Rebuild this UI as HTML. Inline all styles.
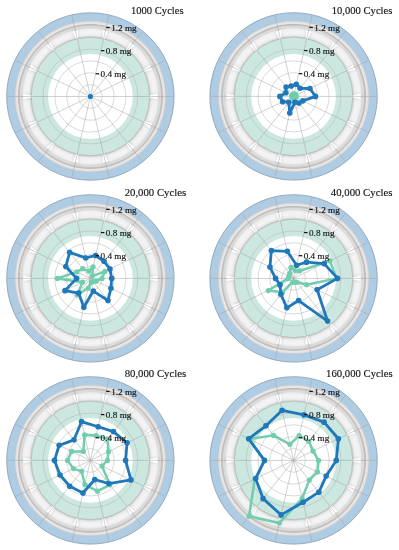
<!DOCTYPE html>
<html><head><meta charset="utf-8"><style>
html,body{margin:0;padding:0;background:#fff;}
svg{display:block;}
text{font-family:"Liberation Serif",serif;fill:#161616;stroke:#161616;stroke-width:0.15px;}
</style></head><body>
<svg width="399" height="550" viewBox="0 0 399 550">
<defs>
<radialGradient id="gb" gradientUnits="userSpaceOnUse" cx="0" cy="0" r="72">
<stop offset="0.824" stop-color="#d2d2d2"/>
<stop offset="0.84" stop-color="#dedede"/>
<stop offset="0.9" stop-color="#e3e3e3"/>
<stop offset="0.96" stop-color="#dddddd"/>
<stop offset="1" stop-color="#d6d6d6"/>
</radialGradient>
<filter id="bl" x="-20%" y="-20%" width="140%" height="140%"><feGaussianBlur stdDeviation="1.1"/></filter>
</defs>

<g transform="translate(90.4,96.5)">
<circle r="83.7" fill="#afcce2" stroke="#8ba4ba" stroke-width="0.9"/>
<circle r="75.2" fill="#e6dcd8"/>
<circle r="74.0" fill="#ebe7e5"/>
<circle r="72" fill="url(#gb)" stroke="#b0b0b0" stroke-width="0.8"/>
<circle r="60.1" fill="none" stroke="#cfcfcf" stroke-width="1"/>
<circle r="68.7" fill="none" stroke="#cdcdcd" stroke-width="0.8"/>
<circle r="59.29" fill="#cbe7e0" stroke="#b5bfbc" stroke-width="0.7"/>
<circle r="42.4" fill="#ffffff"/>
<circle r="11.86" fill="none" stroke="#b2b2b2" stroke-width="0.5"/>
<circle r="23.71" fill="none" stroke="#b2b2b2" stroke-width="0.5"/>
<circle r="35.57" fill="none" stroke="#b2b2b2" stroke-width="0.5"/>
<circle r="47.43" fill="none" stroke="#b2b2b2" stroke-width="0.5"/>
<circle r="59.29" fill="none" stroke="#b2b2b2" stroke-width="0.5"/>
<circle r="71.14" fill="none" stroke="#b2b2b2" stroke-width="0.5"/>
<path d="M60.91,-3.40 L67.71,-3.40 A67.8,67.8 0 0 0 62.48,-26.32 L56.35,-23.36 A61.0,61.0 0 0 1 60.91,-3.40 Z M53.40,-29.49 L59.53,-32.44 A67.8,67.8 0 0 0 44.88,-50.82 L40.63,-45.50 A61.0,61.0 0 0 1 53.40,-29.49 Z M35.32,-49.74 L39.56,-55.06 A67.8,67.8 0 0 0 18.38,-65.26 L16.87,-58.62 A61.0,61.0 0 0 1 35.32,-49.74 Z M10.24,-60.13 L11.75,-66.77 A67.8,67.8 0 0 0 -11.75,-66.77 L-10.24,-60.13 A61.0,61.0 0 0 1 10.24,-60.13 Z M-16.87,-58.62 L-18.38,-65.26 A67.8,67.8 0 0 0 -39.56,-55.06 L-35.32,-49.74 A61.0,61.0 0 0 1 -16.87,-58.62 Z M-40.63,-45.50 L-44.88,-50.82 A67.8,67.8 0 0 0 -59.53,-32.44 L-53.40,-29.49 A61.0,61.0 0 0 1 -40.63,-45.50 Z M-56.35,-23.36 L-62.48,-26.32 A67.8,67.8 0 0 0 -67.71,-3.40 L-60.91,-3.40 A61.0,61.0 0 0 1 -56.35,-23.36 Z M-60.91,3.40 L-67.71,3.40 A67.8,67.8 0 0 0 -62.48,26.32 L-56.35,23.36 A61.0,61.0 0 0 1 -60.91,3.40 Z M-53.40,29.49 L-59.53,32.44 A67.8,67.8 0 0 0 -44.88,50.82 L-40.63,45.50 A61.0,61.0 0 0 1 -53.40,29.49 Z M-35.32,49.74 L-39.56,55.06 A67.8,67.8 0 0 0 -18.38,65.26 L-16.87,58.62 A61.0,61.0 0 0 1 -35.32,49.74 Z M-10.24,60.13 L-11.75,66.77 A67.8,67.8 0 0 0 11.75,66.77 L10.24,60.13 A61.0,61.0 0 0 1 -10.24,60.13 Z M16.87,58.62 L18.38,65.26 A67.8,67.8 0 0 0 39.56,55.06 L35.32,49.74 A61.0,61.0 0 0 1 16.87,58.62 Z M40.63,45.50 L44.88,50.82 A67.8,67.8 0 0 0 59.53,32.44 L53.40,29.49 A61.0,61.0 0 0 1 40.63,45.50 Z M56.35,23.36 L62.48,26.32 A67.8,67.8 0 0 0 67.71,3.40 L60.91,3.40 A61.0,61.0 0 0 1 56.35,23.36 Z" fill="#f3f3f3" filter="url(#bl)"/>
<polygon points="59.19,0.90 67.20,2.80 67.20,-2.80 59.19,-0.90" fill="#ffffff"/>
<polygon points="53.71,-24.87 61.76,-26.63 59.33,-31.68 52.93,-26.49" fill="#ffffff"/>
<polygon points="37.61,-45.71 44.09,-50.79 39.71,-54.28 36.20,-46.83" fill="#ffffff"/>
<polygon points="14.05,-57.50 17.68,-64.89 12.22,-66.14 12.29,-57.90" fill="#ffffff"/>
<polygon points="-12.29,-57.90 -12.22,-66.14 -17.68,-64.89 -14.05,-57.50" fill="#ffffff"/>
<polygon points="-36.20,-46.83 -39.71,-54.28 -44.09,-50.79 -37.61,-45.71" fill="#ffffff"/>
<polygon points="-52.93,-26.49 -59.33,-31.68 -61.76,-26.63 -53.71,-24.87" fill="#ffffff"/>
<polygon points="-59.19,-0.90 -67.20,-2.80 -67.20,2.80 -59.19,0.90" fill="#ffffff"/>
<polygon points="-53.71,24.87 -61.76,26.63 -59.33,31.68 -52.93,26.49" fill="#ffffff"/>
<polygon points="-37.61,45.71 -44.09,50.79 -39.71,54.28 -36.20,46.83" fill="#ffffff"/>
<polygon points="-14.05,57.50 -17.68,64.89 -12.22,66.14 -12.29,57.90" fill="#ffffff"/>
<polygon points="12.29,57.90 12.22,66.14 17.68,64.89 14.05,57.50" fill="#ffffff"/>
<polygon points="36.20,46.83 39.71,54.28 44.09,50.79 37.61,45.71" fill="#ffffff"/>
<polygon points="52.93,26.49 59.33,31.68 61.76,26.63 53.71,24.87" fill="#ffffff"/>
<line x1="0" y1="0" x2="82.70" y2="0.00" stroke="#a2a2a2" stroke-width="0.5"/>
<line x1="0" y1="0" x2="74.51" y2="-35.88" stroke="#a2a2a2" stroke-width="0.5"/>
<line x1="0" y1="0" x2="51.56" y2="-64.66" stroke="#a2a2a2" stroke-width="0.5"/>
<line x1="0" y1="0" x2="18.40" y2="-80.63" stroke="#a2a2a2" stroke-width="0.5"/>
<line x1="0" y1="0" x2="-18.40" y2="-80.63" stroke="#a2a2a2" stroke-width="0.5"/>
<line x1="0" y1="0" x2="-51.56" y2="-64.66" stroke="#a2a2a2" stroke-width="0.5"/>
<line x1="0" y1="0" x2="-74.51" y2="-35.88" stroke="#a2a2a2" stroke-width="0.5"/>
<line x1="0" y1="0" x2="-82.70" y2="-0.00" stroke="#a2a2a2" stroke-width="0.5"/>
<line x1="0" y1="0" x2="-74.51" y2="35.88" stroke="#a2a2a2" stroke-width="0.5"/>
<line x1="0" y1="0" x2="-51.56" y2="64.66" stroke="#a2a2a2" stroke-width="0.5"/>
<line x1="0" y1="0" x2="-18.40" y2="80.63" stroke="#a2a2a2" stroke-width="0.5"/>
<line x1="0" y1="0" x2="18.40" y2="80.63" stroke="#a2a2a2" stroke-width="0.5"/>
<line x1="0" y1="0" x2="51.56" y2="64.66" stroke="#a2a2a2" stroke-width="0.5"/>
<line x1="0" y1="0" x2="74.51" y2="35.88" stroke="#a2a2a2" stroke-width="0.5"/>
</g>
<circle cx="90.4" cy="96.5" r="2.5" fill="#70cdae"/>
<circle cx="90.4" cy="96.5" r="2.5" fill="#1f78b9"/>
<line x1="95.68" y1="73.78" x2="99.08" y2="73.78" stroke="#111" stroke-width="1.2"/>
<text x="100.58" y="77.28" font-size="9.2">0.4 mg</text>
<line x1="100.95" y1="50.66" x2="104.35" y2="50.66" stroke="#111" stroke-width="1.2"/>
<text x="105.85" y="54.16" font-size="9.2">0.8 mg</text>
<line x1="106.23" y1="27.54" x2="109.63" y2="27.54" stroke="#111" stroke-width="1.2"/>
<text x="111.13" y="31.04" font-size="9.2">1.2 mg</text>
<text x="131.00" y="14.3" font-size="11" textLength="52.60" lengthAdjust="spacingAndGlyphs">1000 Cycles</text>
<g transform="translate(293.55,96.4)">
<circle r="83.7" fill="#afcce2" stroke="#8ba4ba" stroke-width="0.9"/>
<circle r="75.2" fill="#e6dcd8"/>
<circle r="74.0" fill="#ebe7e5"/>
<circle r="72" fill="url(#gb)" stroke="#b0b0b0" stroke-width="0.8"/>
<circle r="60.1" fill="none" stroke="#cfcfcf" stroke-width="1"/>
<circle r="68.7" fill="none" stroke="#cdcdcd" stroke-width="0.8"/>
<circle r="59.29" fill="#cbe7e0" stroke="#b5bfbc" stroke-width="0.7"/>
<circle r="42.4" fill="#ffffff"/>
<circle r="11.86" fill="none" stroke="#b2b2b2" stroke-width="0.5"/>
<circle r="23.71" fill="none" stroke="#b2b2b2" stroke-width="0.5"/>
<circle r="35.57" fill="none" stroke="#b2b2b2" stroke-width="0.5"/>
<circle r="47.43" fill="none" stroke="#b2b2b2" stroke-width="0.5"/>
<circle r="59.29" fill="none" stroke="#b2b2b2" stroke-width="0.5"/>
<circle r="71.14" fill="none" stroke="#b2b2b2" stroke-width="0.5"/>
<path d="M60.91,-3.40 L67.71,-3.40 A67.8,67.8 0 0 0 62.48,-26.32 L56.35,-23.36 A61.0,61.0 0 0 1 60.91,-3.40 Z M53.40,-29.49 L59.53,-32.44 A67.8,67.8 0 0 0 44.88,-50.82 L40.63,-45.50 A61.0,61.0 0 0 1 53.40,-29.49 Z M35.32,-49.74 L39.56,-55.06 A67.8,67.8 0 0 0 18.38,-65.26 L16.87,-58.62 A61.0,61.0 0 0 1 35.32,-49.74 Z M10.24,-60.13 L11.75,-66.77 A67.8,67.8 0 0 0 -11.75,-66.77 L-10.24,-60.13 A61.0,61.0 0 0 1 10.24,-60.13 Z M-16.87,-58.62 L-18.38,-65.26 A67.8,67.8 0 0 0 -39.56,-55.06 L-35.32,-49.74 A61.0,61.0 0 0 1 -16.87,-58.62 Z M-40.63,-45.50 L-44.88,-50.82 A67.8,67.8 0 0 0 -59.53,-32.44 L-53.40,-29.49 A61.0,61.0 0 0 1 -40.63,-45.50 Z M-56.35,-23.36 L-62.48,-26.32 A67.8,67.8 0 0 0 -67.71,-3.40 L-60.91,-3.40 A61.0,61.0 0 0 1 -56.35,-23.36 Z M-60.91,3.40 L-67.71,3.40 A67.8,67.8 0 0 0 -62.48,26.32 L-56.35,23.36 A61.0,61.0 0 0 1 -60.91,3.40 Z M-53.40,29.49 L-59.53,32.44 A67.8,67.8 0 0 0 -44.88,50.82 L-40.63,45.50 A61.0,61.0 0 0 1 -53.40,29.49 Z M-35.32,49.74 L-39.56,55.06 A67.8,67.8 0 0 0 -18.38,65.26 L-16.87,58.62 A61.0,61.0 0 0 1 -35.32,49.74 Z M-10.24,60.13 L-11.75,66.77 A67.8,67.8 0 0 0 11.75,66.77 L10.24,60.13 A61.0,61.0 0 0 1 -10.24,60.13 Z M16.87,58.62 L18.38,65.26 A67.8,67.8 0 0 0 39.56,55.06 L35.32,49.74 A61.0,61.0 0 0 1 16.87,58.62 Z M40.63,45.50 L44.88,50.82 A67.8,67.8 0 0 0 59.53,32.44 L53.40,29.49 A61.0,61.0 0 0 1 40.63,45.50 Z M56.35,23.36 L62.48,26.32 A67.8,67.8 0 0 0 67.71,3.40 L60.91,3.40 A61.0,61.0 0 0 1 56.35,23.36 Z" fill="#f3f3f3" filter="url(#bl)"/>
<polygon points="59.19,0.90 67.20,2.80 67.20,-2.80 59.19,-0.90" fill="#ffffff"/>
<polygon points="53.71,-24.87 61.76,-26.63 59.33,-31.68 52.93,-26.49" fill="#ffffff"/>
<polygon points="37.61,-45.71 44.09,-50.79 39.71,-54.28 36.20,-46.83" fill="#ffffff"/>
<polygon points="14.05,-57.50 17.68,-64.89 12.22,-66.14 12.29,-57.90" fill="#ffffff"/>
<polygon points="-12.29,-57.90 -12.22,-66.14 -17.68,-64.89 -14.05,-57.50" fill="#ffffff"/>
<polygon points="-36.20,-46.83 -39.71,-54.28 -44.09,-50.79 -37.61,-45.71" fill="#ffffff"/>
<polygon points="-52.93,-26.49 -59.33,-31.68 -61.76,-26.63 -53.71,-24.87" fill="#ffffff"/>
<polygon points="-59.19,-0.90 -67.20,-2.80 -67.20,2.80 -59.19,0.90" fill="#ffffff"/>
<polygon points="-53.71,24.87 -61.76,26.63 -59.33,31.68 -52.93,26.49" fill="#ffffff"/>
<polygon points="-37.61,45.71 -44.09,50.79 -39.71,54.28 -36.20,46.83" fill="#ffffff"/>
<polygon points="-14.05,57.50 -17.68,64.89 -12.22,66.14 -12.29,57.90" fill="#ffffff"/>
<polygon points="12.29,57.90 12.22,66.14 17.68,64.89 14.05,57.50" fill="#ffffff"/>
<polygon points="36.20,46.83 39.71,54.28 44.09,50.79 37.61,45.71" fill="#ffffff"/>
<polygon points="52.93,26.49 59.33,31.68 61.76,26.63 53.71,24.87" fill="#ffffff"/>
<line x1="0" y1="0" x2="82.70" y2="0.00" stroke="#a2a2a2" stroke-width="0.5"/>
<line x1="0" y1="0" x2="74.51" y2="-35.88" stroke="#a2a2a2" stroke-width="0.5"/>
<line x1="0" y1="0" x2="51.56" y2="-64.66" stroke="#a2a2a2" stroke-width="0.5"/>
<line x1="0" y1="0" x2="18.40" y2="-80.63" stroke="#a2a2a2" stroke-width="0.5"/>
<line x1="0" y1="0" x2="-18.40" y2="-80.63" stroke="#a2a2a2" stroke-width="0.5"/>
<line x1="0" y1="0" x2="-51.56" y2="-64.66" stroke="#a2a2a2" stroke-width="0.5"/>
<line x1="0" y1="0" x2="-74.51" y2="-35.88" stroke="#a2a2a2" stroke-width="0.5"/>
<line x1="0" y1="0" x2="-82.70" y2="-0.00" stroke="#a2a2a2" stroke-width="0.5"/>
<line x1="0" y1="0" x2="-74.51" y2="35.88" stroke="#a2a2a2" stroke-width="0.5"/>
<line x1="0" y1="0" x2="-51.56" y2="64.66" stroke="#a2a2a2" stroke-width="0.5"/>
<line x1="0" y1="0" x2="-18.40" y2="80.63" stroke="#a2a2a2" stroke-width="0.5"/>
<line x1="0" y1="0" x2="18.40" y2="80.63" stroke="#a2a2a2" stroke-width="0.5"/>
<line x1="0" y1="0" x2="51.56" y2="64.66" stroke="#a2a2a2" stroke-width="0.5"/>
<line x1="0" y1="0" x2="74.51" y2="35.88" stroke="#a2a2a2" stroke-width="0.5"/>
</g>
<polygon points="296.15,96.40 296.07,95.19 295.30,94.21 294.13,93.87 293.06,94.26 292.30,94.84 291.93,95.62 291.95,96.40 292.29,97.01 292.68,97.49 293.19,97.96 293.95,98.15 294.92,98.12 295.80,97.48" fill="none" stroke="#70cdae" stroke-width="2.5" stroke-linejoin="round"/>
<circle cx="296.15" cy="96.40" r="2.6" fill="#70cdae"/>
<circle cx="296.07" cy="95.19" r="2.6" fill="#70cdae"/>
<circle cx="295.30" cy="94.21" r="2.6" fill="#70cdae"/>
<circle cx="294.13" cy="93.87" r="2.6" fill="#70cdae"/>
<circle cx="293.06" cy="94.26" r="2.6" fill="#70cdae"/>
<circle cx="292.30" cy="94.84" r="2.6" fill="#70cdae"/>
<circle cx="291.93" cy="95.62" r="2.6" fill="#70cdae"/>
<circle cx="291.95" cy="96.40" r="2.6" fill="#70cdae"/>
<circle cx="292.29" cy="97.01" r="2.6" fill="#70cdae"/>
<circle cx="292.68" cy="97.49" r="2.6" fill="#70cdae"/>
<circle cx="293.19" cy="97.96" r="2.6" fill="#70cdae"/>
<circle cx="293.95" cy="98.15" r="2.6" fill="#70cdae"/>
<circle cx="294.92" cy="98.12" r="2.6" fill="#70cdae"/>
<circle cx="295.80" cy="97.48" r="2.6" fill="#70cdae"/>
<polygon points="315.45,96.40 309.95,88.50 300.03,88.27 296.31,84.31 291.19,86.07 286.07,87.02 285.89,92.71 279.85,96.40 282.56,101.69 288.87,102.26 289.74,113.07 294.91,102.35 298.85,103.05 302.83,100.87" fill="none" stroke="#1f78b9" stroke-width="2.8" stroke-linejoin="round"/>
<circle cx="315.45" cy="96.40" r="2.8" fill="#1f78b9"/>
<circle cx="309.95" cy="88.50" r="2.8" fill="#1f78b9"/>
<circle cx="300.03" cy="88.27" r="2.8" fill="#1f78b9"/>
<circle cx="296.31" cy="84.31" r="2.8" fill="#1f78b9"/>
<circle cx="291.19" cy="86.07" r="2.8" fill="#1f78b9"/>
<circle cx="286.07" cy="87.02" r="2.8" fill="#1f78b9"/>
<circle cx="285.89" cy="92.71" r="2.8" fill="#1f78b9"/>
<circle cx="279.85" cy="96.40" r="2.8" fill="#1f78b9"/>
<circle cx="282.56" cy="101.69" r="2.8" fill="#1f78b9"/>
<circle cx="288.87" cy="102.26" r="2.8" fill="#1f78b9"/>
<circle cx="289.74" cy="113.07" r="2.8" fill="#1f78b9"/>
<circle cx="294.91" cy="102.35" r="2.8" fill="#1f78b9"/>
<circle cx="298.85" cy="103.05" r="2.8" fill="#1f78b9"/>
<circle cx="302.83" cy="100.87" r="2.8" fill="#1f78b9"/>
<line x1="298.83" y1="73.68" x2="302.23" y2="73.68" stroke="#111" stroke-width="1.2"/>
<text x="303.73" y="77.18" font-size="9.2">0.4 mg</text>
<line x1="304.10" y1="50.56" x2="307.50" y2="50.56" stroke="#111" stroke-width="1.2"/>
<text x="309.00" y="54.06" font-size="9.2">0.8 mg</text>
<line x1="309.38" y1="27.44" x2="312.78" y2="27.44" stroke="#111" stroke-width="1.2"/>
<text x="314.28" y="30.94" font-size="9.2">1.2 mg</text>
<text x="331.70" y="14.0" font-size="11" textLength="60.70" lengthAdjust="spacingAndGlyphs">10,000 Cycles</text>
<g transform="translate(90.4,278.4)">
<circle r="83.7" fill="#afcce2" stroke="#8ba4ba" stroke-width="0.9"/>
<circle r="75.2" fill="#e6dcd8"/>
<circle r="74.0" fill="#ebe7e5"/>
<circle r="72" fill="url(#gb)" stroke="#b0b0b0" stroke-width="0.8"/>
<circle r="60.1" fill="none" stroke="#cfcfcf" stroke-width="1"/>
<circle r="68.7" fill="none" stroke="#cdcdcd" stroke-width="0.8"/>
<circle r="59.29" fill="#cbe7e0" stroke="#b5bfbc" stroke-width="0.7"/>
<circle r="42.4" fill="#ffffff"/>
<circle r="11.86" fill="none" stroke="#b2b2b2" stroke-width="0.5"/>
<circle r="23.71" fill="none" stroke="#b2b2b2" stroke-width="0.5"/>
<circle r="35.57" fill="none" stroke="#b2b2b2" stroke-width="0.5"/>
<circle r="47.43" fill="none" stroke="#b2b2b2" stroke-width="0.5"/>
<circle r="59.29" fill="none" stroke="#b2b2b2" stroke-width="0.5"/>
<circle r="71.14" fill="none" stroke="#b2b2b2" stroke-width="0.5"/>
<path d="M60.91,-3.40 L67.71,-3.40 A67.8,67.8 0 0 0 62.48,-26.32 L56.35,-23.36 A61.0,61.0 0 0 1 60.91,-3.40 Z M53.40,-29.49 L59.53,-32.44 A67.8,67.8 0 0 0 44.88,-50.82 L40.63,-45.50 A61.0,61.0 0 0 1 53.40,-29.49 Z M35.32,-49.74 L39.56,-55.06 A67.8,67.8 0 0 0 18.38,-65.26 L16.87,-58.62 A61.0,61.0 0 0 1 35.32,-49.74 Z M10.24,-60.13 L11.75,-66.77 A67.8,67.8 0 0 0 -11.75,-66.77 L-10.24,-60.13 A61.0,61.0 0 0 1 10.24,-60.13 Z M-16.87,-58.62 L-18.38,-65.26 A67.8,67.8 0 0 0 -39.56,-55.06 L-35.32,-49.74 A61.0,61.0 0 0 1 -16.87,-58.62 Z M-40.63,-45.50 L-44.88,-50.82 A67.8,67.8 0 0 0 -59.53,-32.44 L-53.40,-29.49 A61.0,61.0 0 0 1 -40.63,-45.50 Z M-56.35,-23.36 L-62.48,-26.32 A67.8,67.8 0 0 0 -67.71,-3.40 L-60.91,-3.40 A61.0,61.0 0 0 1 -56.35,-23.36 Z M-60.91,3.40 L-67.71,3.40 A67.8,67.8 0 0 0 -62.48,26.32 L-56.35,23.36 A61.0,61.0 0 0 1 -60.91,3.40 Z M-53.40,29.49 L-59.53,32.44 A67.8,67.8 0 0 0 -44.88,50.82 L-40.63,45.50 A61.0,61.0 0 0 1 -53.40,29.49 Z M-35.32,49.74 L-39.56,55.06 A67.8,67.8 0 0 0 -18.38,65.26 L-16.87,58.62 A61.0,61.0 0 0 1 -35.32,49.74 Z M-10.24,60.13 L-11.75,66.77 A67.8,67.8 0 0 0 11.75,66.77 L10.24,60.13 A61.0,61.0 0 0 1 -10.24,60.13 Z M16.87,58.62 L18.38,65.26 A67.8,67.8 0 0 0 39.56,55.06 L35.32,49.74 A61.0,61.0 0 0 1 16.87,58.62 Z M40.63,45.50 L44.88,50.82 A67.8,67.8 0 0 0 59.53,32.44 L53.40,29.49 A61.0,61.0 0 0 1 40.63,45.50 Z M56.35,23.36 L62.48,26.32 A67.8,67.8 0 0 0 67.71,3.40 L60.91,3.40 A61.0,61.0 0 0 1 56.35,23.36 Z" fill="#f3f3f3" filter="url(#bl)"/>
<polygon points="59.19,0.90 67.20,2.80 67.20,-2.80 59.19,-0.90" fill="#ffffff"/>
<polygon points="53.71,-24.87 61.76,-26.63 59.33,-31.68 52.93,-26.49" fill="#ffffff"/>
<polygon points="37.61,-45.71 44.09,-50.79 39.71,-54.28 36.20,-46.83" fill="#ffffff"/>
<polygon points="14.05,-57.50 17.68,-64.89 12.22,-66.14 12.29,-57.90" fill="#ffffff"/>
<polygon points="-12.29,-57.90 -12.22,-66.14 -17.68,-64.89 -14.05,-57.50" fill="#ffffff"/>
<polygon points="-36.20,-46.83 -39.71,-54.28 -44.09,-50.79 -37.61,-45.71" fill="#ffffff"/>
<polygon points="-52.93,-26.49 -59.33,-31.68 -61.76,-26.63 -53.71,-24.87" fill="#ffffff"/>
<polygon points="-59.19,-0.90 -67.20,-2.80 -67.20,2.80 -59.19,0.90" fill="#ffffff"/>
<polygon points="-53.71,24.87 -61.76,26.63 -59.33,31.68 -52.93,26.49" fill="#ffffff"/>
<polygon points="-37.61,45.71 -44.09,50.79 -39.71,54.28 -36.20,46.83" fill="#ffffff"/>
<polygon points="-14.05,57.50 -17.68,64.89 -12.22,66.14 -12.29,57.90" fill="#ffffff"/>
<polygon points="12.29,57.90 12.22,66.14 17.68,64.89 14.05,57.50" fill="#ffffff"/>
<polygon points="36.20,46.83 39.71,54.28 44.09,50.79 37.61,45.71" fill="#ffffff"/>
<polygon points="52.93,26.49 59.33,31.68 61.76,26.63 53.71,24.87" fill="#ffffff"/>
<line x1="0" y1="0" x2="82.70" y2="0.00" stroke="#a2a2a2" stroke-width="0.5"/>
<line x1="0" y1="0" x2="74.51" y2="-35.88" stroke="#a2a2a2" stroke-width="0.5"/>
<line x1="0" y1="0" x2="51.56" y2="-64.66" stroke="#a2a2a2" stroke-width="0.5"/>
<line x1="0" y1="0" x2="18.40" y2="-80.63" stroke="#a2a2a2" stroke-width="0.5"/>
<line x1="0" y1="0" x2="-18.40" y2="-80.63" stroke="#a2a2a2" stroke-width="0.5"/>
<line x1="0" y1="0" x2="-51.56" y2="-64.66" stroke="#a2a2a2" stroke-width="0.5"/>
<line x1="0" y1="0" x2="-74.51" y2="-35.88" stroke="#a2a2a2" stroke-width="0.5"/>
<line x1="0" y1="0" x2="-82.70" y2="-0.00" stroke="#a2a2a2" stroke-width="0.5"/>
<line x1="0" y1="0" x2="-74.51" y2="35.88" stroke="#a2a2a2" stroke-width="0.5"/>
<line x1="0" y1="0" x2="-51.56" y2="64.66" stroke="#a2a2a2" stroke-width="0.5"/>
<line x1="0" y1="0" x2="-18.40" y2="80.63" stroke="#a2a2a2" stroke-width="0.5"/>
<line x1="0" y1="0" x2="18.40" y2="80.63" stroke="#a2a2a2" stroke-width="0.5"/>
<line x1="0" y1="0" x2="51.56" y2="64.66" stroke="#a2a2a2" stroke-width="0.5"/>
<line x1="0" y1="0" x2="74.51" y2="35.88" stroke="#a2a2a2" stroke-width="0.5"/>
</g>
<polygon points="102.00,278.40 104.91,271.41 92.27,276.05 93.05,266.80 88.73,271.09 82.61,268.63 76.80,271.85 57.40,278.40 82.56,282.17 77.31,294.82 88.20,288.05 91.29,282.30 92.89,281.53 96.17,281.18" fill="none" stroke="#70cdae" stroke-width="2.5" stroke-linejoin="round"/>
<circle cx="102.00" cy="278.40" r="2.6" fill="#70cdae"/>
<circle cx="104.91" cy="271.41" r="2.6" fill="#70cdae"/>
<circle cx="92.27" cy="276.05" r="2.6" fill="#70cdae"/>
<circle cx="93.05" cy="266.80" r="2.6" fill="#70cdae"/>
<circle cx="88.73" cy="271.09" r="2.6" fill="#70cdae"/>
<circle cx="82.61" cy="268.63" r="2.6" fill="#70cdae"/>
<circle cx="76.80" cy="271.85" r="2.6" fill="#70cdae"/>
<circle cx="57.40" cy="278.40" r="2.6" fill="#70cdae"/>
<circle cx="82.56" cy="282.17" r="2.6" fill="#70cdae"/>
<circle cx="77.31" cy="294.82" r="2.6" fill="#70cdae"/>
<circle cx="88.20" cy="288.05" r="2.6" fill="#70cdae"/>
<circle cx="91.29" cy="282.30" r="2.6" fill="#70cdae"/>
<circle cx="92.89" cy="281.53" r="2.6" fill="#70cdae"/>
<circle cx="96.17" cy="281.18" r="2.6" fill="#70cdae"/>
<polygon points="111.70,278.40 109.95,268.98 103.99,261.36 95.63,255.49 85.73,257.93 69.64,252.37 65.80,266.55 76.60,278.40 64.99,290.64 78.68,293.10 83.81,307.26 93.29,291.07 107.98,300.45 110.94,288.29" fill="none" stroke="#1f78b9" stroke-width="2.8" stroke-linejoin="round"/>
<circle cx="111.70" cy="278.40" r="2.8" fill="#1f78b9"/>
<circle cx="109.95" cy="268.98" r="2.8" fill="#1f78b9"/>
<circle cx="103.99" cy="261.36" r="2.8" fill="#1f78b9"/>
<circle cx="95.63" cy="255.49" r="2.8" fill="#1f78b9"/>
<circle cx="85.73" cy="257.93" r="2.8" fill="#1f78b9"/>
<circle cx="69.64" cy="252.37" r="2.8" fill="#1f78b9"/>
<circle cx="65.80" cy="266.55" r="2.8" fill="#1f78b9"/>
<circle cx="76.60" cy="278.40" r="2.8" fill="#1f78b9"/>
<circle cx="64.99" cy="290.64" r="2.8" fill="#1f78b9"/>
<circle cx="78.68" cy="293.10" r="2.8" fill="#1f78b9"/>
<circle cx="83.81" cy="307.26" r="2.8" fill="#1f78b9"/>
<circle cx="93.29" cy="291.07" r="2.8" fill="#1f78b9"/>
<circle cx="107.98" cy="300.45" r="2.8" fill="#1f78b9"/>
<circle cx="110.94" cy="288.29" r="2.8" fill="#1f78b9"/>
<line x1="95.68" y1="255.68" x2="99.08" y2="255.68" stroke="#111" stroke-width="1.2"/>
<text x="100.58" y="259.18" font-size="9.2">0.4 mg</text>
<line x1="100.95" y1="232.56" x2="104.35" y2="232.56" stroke="#111" stroke-width="1.2"/>
<text x="105.85" y="236.06" font-size="9.2">0.8 mg</text>
<line x1="106.23" y1="209.44" x2="109.63" y2="209.44" stroke="#111" stroke-width="1.2"/>
<text x="111.13" y="212.94" font-size="9.2">1.2 mg</text>
<text x="124.70" y="195.7" font-size="11" textLength="61.50" lengthAdjust="spacingAndGlyphs">20,000 Cycles</text>
<g transform="translate(293.55,278.4)">
<circle r="83.7" fill="#afcce2" stroke="#8ba4ba" stroke-width="0.9"/>
<circle r="75.2" fill="#e6dcd8"/>
<circle r="74.0" fill="#ebe7e5"/>
<circle r="72" fill="url(#gb)" stroke="#b0b0b0" stroke-width="0.8"/>
<circle r="60.1" fill="none" stroke="#cfcfcf" stroke-width="1"/>
<circle r="68.7" fill="none" stroke="#cdcdcd" stroke-width="0.8"/>
<circle r="59.29" fill="#cbe7e0" stroke="#b5bfbc" stroke-width="0.7"/>
<circle r="42.4" fill="#ffffff"/>
<circle r="11.86" fill="none" stroke="#b2b2b2" stroke-width="0.5"/>
<circle r="23.71" fill="none" stroke="#b2b2b2" stroke-width="0.5"/>
<circle r="35.57" fill="none" stroke="#b2b2b2" stroke-width="0.5"/>
<circle r="47.43" fill="none" stroke="#b2b2b2" stroke-width="0.5"/>
<circle r="59.29" fill="none" stroke="#b2b2b2" stroke-width="0.5"/>
<circle r="71.14" fill="none" stroke="#b2b2b2" stroke-width="0.5"/>
<path d="M60.91,-3.40 L67.71,-3.40 A67.8,67.8 0 0 0 62.48,-26.32 L56.35,-23.36 A61.0,61.0 0 0 1 60.91,-3.40 Z M53.40,-29.49 L59.53,-32.44 A67.8,67.8 0 0 0 44.88,-50.82 L40.63,-45.50 A61.0,61.0 0 0 1 53.40,-29.49 Z M35.32,-49.74 L39.56,-55.06 A67.8,67.8 0 0 0 18.38,-65.26 L16.87,-58.62 A61.0,61.0 0 0 1 35.32,-49.74 Z M10.24,-60.13 L11.75,-66.77 A67.8,67.8 0 0 0 -11.75,-66.77 L-10.24,-60.13 A61.0,61.0 0 0 1 10.24,-60.13 Z M-16.87,-58.62 L-18.38,-65.26 A67.8,67.8 0 0 0 -39.56,-55.06 L-35.32,-49.74 A61.0,61.0 0 0 1 -16.87,-58.62 Z M-40.63,-45.50 L-44.88,-50.82 A67.8,67.8 0 0 0 -59.53,-32.44 L-53.40,-29.49 A61.0,61.0 0 0 1 -40.63,-45.50 Z M-56.35,-23.36 L-62.48,-26.32 A67.8,67.8 0 0 0 -67.71,-3.40 L-60.91,-3.40 A61.0,61.0 0 0 1 -56.35,-23.36 Z M-60.91,3.40 L-67.71,3.40 A67.8,67.8 0 0 0 -62.48,26.32 L-56.35,23.36 A61.0,61.0 0 0 1 -60.91,3.40 Z M-53.40,29.49 L-59.53,32.44 A67.8,67.8 0 0 0 -44.88,50.82 L-40.63,45.50 A61.0,61.0 0 0 1 -53.40,29.49 Z M-35.32,49.74 L-39.56,55.06 A67.8,67.8 0 0 0 -18.38,65.26 L-16.87,58.62 A61.0,61.0 0 0 1 -35.32,49.74 Z M-10.24,60.13 L-11.75,66.77 A67.8,67.8 0 0 0 11.75,66.77 L10.24,60.13 A61.0,61.0 0 0 1 -10.24,60.13 Z M16.87,58.62 L18.38,65.26 A67.8,67.8 0 0 0 39.56,55.06 L35.32,49.74 A61.0,61.0 0 0 1 16.87,58.62 Z M40.63,45.50 L44.88,50.82 A67.8,67.8 0 0 0 59.53,32.44 L53.40,29.49 A61.0,61.0 0 0 1 40.63,45.50 Z M56.35,23.36 L62.48,26.32 A67.8,67.8 0 0 0 67.71,3.40 L60.91,3.40 A61.0,61.0 0 0 1 56.35,23.36 Z" fill="#f3f3f3" filter="url(#bl)"/>
<polygon points="59.19,0.90 67.20,2.80 67.20,-2.80 59.19,-0.90" fill="#ffffff"/>
<polygon points="53.71,-24.87 61.76,-26.63 59.33,-31.68 52.93,-26.49" fill="#ffffff"/>
<polygon points="37.61,-45.71 44.09,-50.79 39.71,-54.28 36.20,-46.83" fill="#ffffff"/>
<polygon points="14.05,-57.50 17.68,-64.89 12.22,-66.14 12.29,-57.90" fill="#ffffff"/>
<polygon points="-12.29,-57.90 -12.22,-66.14 -17.68,-64.89 -14.05,-57.50" fill="#ffffff"/>
<polygon points="-36.20,-46.83 -39.71,-54.28 -44.09,-50.79 -37.61,-45.71" fill="#ffffff"/>
<polygon points="-52.93,-26.49 -59.33,-31.68 -61.76,-26.63 -53.71,-24.87" fill="#ffffff"/>
<polygon points="-59.19,-0.90 -67.20,-2.80 -67.20,2.80 -59.19,0.90" fill="#ffffff"/>
<polygon points="-53.71,24.87 -61.76,26.63 -59.33,31.68 -52.93,26.49" fill="#ffffff"/>
<polygon points="-37.61,45.71 -44.09,50.79 -39.71,54.28 -36.20,46.83" fill="#ffffff"/>
<polygon points="-14.05,57.50 -17.68,64.89 -12.22,66.14 -12.29,57.90" fill="#ffffff"/>
<polygon points="12.29,57.90 12.22,66.14 17.68,64.89 14.05,57.50" fill="#ffffff"/>
<polygon points="36.20,46.83 39.71,54.28 44.09,50.79 37.61,45.71" fill="#ffffff"/>
<polygon points="52.93,26.49 59.33,31.68 61.76,26.63 53.71,24.87" fill="#ffffff"/>
<line x1="0" y1="0" x2="82.70" y2="0.00" stroke="#a2a2a2" stroke-width="0.5"/>
<line x1="0" y1="0" x2="74.51" y2="-35.88" stroke="#a2a2a2" stroke-width="0.5"/>
<line x1="0" y1="0" x2="51.56" y2="-64.66" stroke="#a2a2a2" stroke-width="0.5"/>
<line x1="0" y1="0" x2="18.40" y2="-80.63" stroke="#a2a2a2" stroke-width="0.5"/>
<line x1="0" y1="0" x2="-18.40" y2="-80.63" stroke="#a2a2a2" stroke-width="0.5"/>
<line x1="0" y1="0" x2="-51.56" y2="-64.66" stroke="#a2a2a2" stroke-width="0.5"/>
<line x1="0" y1="0" x2="-74.51" y2="-35.88" stroke="#a2a2a2" stroke-width="0.5"/>
<line x1="0" y1="0" x2="-82.70" y2="-0.00" stroke="#a2a2a2" stroke-width="0.5"/>
<line x1="0" y1="0" x2="-74.51" y2="35.88" stroke="#a2a2a2" stroke-width="0.5"/>
<line x1="0" y1="0" x2="-51.56" y2="64.66" stroke="#a2a2a2" stroke-width="0.5"/>
<line x1="0" y1="0" x2="-18.40" y2="80.63" stroke="#a2a2a2" stroke-width="0.5"/>
<line x1="0" y1="0" x2="18.40" y2="80.63" stroke="#a2a2a2" stroke-width="0.5"/>
<line x1="0" y1="0" x2="51.56" y2="64.66" stroke="#a2a2a2" stroke-width="0.5"/>
<line x1="0" y1="0" x2="74.51" y2="35.88" stroke="#a2a2a2" stroke-width="0.5"/>
</g>
<polygon points="336.55,278.40 329.95,260.87 299.47,270.97 295.33,270.60 291.04,267.38 289.62,273.47 289.05,276.23 288.05,278.40 268.32,290.55 282.51,292.24 292.70,282.10 294.44,282.30 296.67,282.31 306.61,284.69" fill="none" stroke="#70cdae" stroke-width="2.5" stroke-linejoin="round"/>
<circle cx="336.55" cy="278.40" r="2.6" fill="#70cdae"/>
<circle cx="329.95" cy="260.87" r="2.6" fill="#70cdae"/>
<circle cx="299.47" cy="270.97" r="2.6" fill="#70cdae"/>
<circle cx="295.33" cy="270.60" r="2.6" fill="#70cdae"/>
<circle cx="291.04" cy="267.38" r="2.6" fill="#70cdae"/>
<circle cx="289.62" cy="273.47" r="2.6" fill="#70cdae"/>
<circle cx="289.05" cy="276.23" r="2.6" fill="#70cdae"/>
<circle cx="288.05" cy="278.40" r="2.6" fill="#70cdae"/>
<circle cx="268.32" cy="290.55" r="2.6" fill="#70cdae"/>
<circle cx="282.51" cy="292.24" r="2.6" fill="#70cdae"/>
<circle cx="292.70" cy="282.10" r="2.6" fill="#70cdae"/>
<circle cx="294.44" cy="282.30" r="2.6" fill="#70cdae"/>
<circle cx="296.67" cy="282.31" r="2.6" fill="#70cdae"/>
<circle cx="306.61" cy="284.69" r="2.6" fill="#70cdae"/>
<polygon points="337.55,278.40 324.18,263.65 306.52,262.14 296.55,265.24 287.36,251.30 271.35,250.57 269.94,267.03 275.55,278.40 280.04,284.91 280.89,294.27 286.83,307.84 298.60,300.53 327.59,321.09 317.16,289.77" fill="none" stroke="#1f78b9" stroke-width="2.8" stroke-linejoin="round"/>
<circle cx="337.55" cy="278.40" r="2.8" fill="#1f78b9"/>
<circle cx="324.18" cy="263.65" r="2.8" fill="#1f78b9"/>
<circle cx="306.52" cy="262.14" r="2.8" fill="#1f78b9"/>
<circle cx="296.55" cy="265.24" r="2.8" fill="#1f78b9"/>
<circle cx="287.36" cy="251.30" r="2.8" fill="#1f78b9"/>
<circle cx="271.35" cy="250.57" r="2.8" fill="#1f78b9"/>
<circle cx="269.94" cy="267.03" r="2.8" fill="#1f78b9"/>
<circle cx="275.55" cy="278.40" r="2.8" fill="#1f78b9"/>
<circle cx="280.04" cy="284.91" r="2.8" fill="#1f78b9"/>
<circle cx="280.89" cy="294.27" r="2.8" fill="#1f78b9"/>
<circle cx="286.83" cy="307.84" r="2.8" fill="#1f78b9"/>
<circle cx="298.60" cy="300.53" r="2.8" fill="#1f78b9"/>
<circle cx="327.59" cy="321.09" r="2.8" fill="#1f78b9"/>
<circle cx="317.16" cy="289.77" r="2.8" fill="#1f78b9"/>
<line x1="298.83" y1="255.68" x2="302.23" y2="255.68" stroke="#111" stroke-width="1.2"/>
<text x="303.73" y="259.18" font-size="9.2">0.4 mg</text>
<line x1="304.10" y1="232.56" x2="307.50" y2="232.56" stroke="#111" stroke-width="1.2"/>
<text x="309.00" y="236.06" font-size="9.2">0.8 mg</text>
<line x1="309.38" y1="209.44" x2="312.78" y2="209.44" stroke="#111" stroke-width="1.2"/>
<text x="314.28" y="212.94" font-size="9.2">1.2 mg</text>
<text x="330.80" y="195.7" font-size="11" textLength="61.60" lengthAdjust="spacingAndGlyphs">40,000 Cycles</text>
<g transform="translate(90.4,460.4)">
<circle r="83.7" fill="#afcce2" stroke="#8ba4ba" stroke-width="0.9"/>
<circle r="75.2" fill="#e6dcd8"/>
<circle r="74.0" fill="#ebe7e5"/>
<circle r="72" fill="url(#gb)" stroke="#b0b0b0" stroke-width="0.8"/>
<circle r="60.1" fill="none" stroke="#cfcfcf" stroke-width="1"/>
<circle r="68.7" fill="none" stroke="#cdcdcd" stroke-width="0.8"/>
<circle r="59.29" fill="#cbe7e0" stroke="#b5bfbc" stroke-width="0.7"/>
<circle r="42.4" fill="#ffffff"/>
<circle r="11.86" fill="none" stroke="#b2b2b2" stroke-width="0.5"/>
<circle r="23.71" fill="none" stroke="#b2b2b2" stroke-width="0.5"/>
<circle r="35.57" fill="none" stroke="#b2b2b2" stroke-width="0.5"/>
<circle r="47.43" fill="none" stroke="#b2b2b2" stroke-width="0.5"/>
<circle r="59.29" fill="none" stroke="#b2b2b2" stroke-width="0.5"/>
<circle r="71.14" fill="none" stroke="#b2b2b2" stroke-width="0.5"/>
<path d="M60.91,-3.40 L67.71,-3.40 A67.8,67.8 0 0 0 62.48,-26.32 L56.35,-23.36 A61.0,61.0 0 0 1 60.91,-3.40 Z M53.40,-29.49 L59.53,-32.44 A67.8,67.8 0 0 0 44.88,-50.82 L40.63,-45.50 A61.0,61.0 0 0 1 53.40,-29.49 Z M35.32,-49.74 L39.56,-55.06 A67.8,67.8 0 0 0 18.38,-65.26 L16.87,-58.62 A61.0,61.0 0 0 1 35.32,-49.74 Z M10.24,-60.13 L11.75,-66.77 A67.8,67.8 0 0 0 -11.75,-66.77 L-10.24,-60.13 A61.0,61.0 0 0 1 10.24,-60.13 Z M-16.87,-58.62 L-18.38,-65.26 A67.8,67.8 0 0 0 -39.56,-55.06 L-35.32,-49.74 A61.0,61.0 0 0 1 -16.87,-58.62 Z M-40.63,-45.50 L-44.88,-50.82 A67.8,67.8 0 0 0 -59.53,-32.44 L-53.40,-29.49 A61.0,61.0 0 0 1 -40.63,-45.50 Z M-56.35,-23.36 L-62.48,-26.32 A67.8,67.8 0 0 0 -67.71,-3.40 L-60.91,-3.40 A61.0,61.0 0 0 1 -56.35,-23.36 Z M-60.91,3.40 L-67.71,3.40 A67.8,67.8 0 0 0 -62.48,26.32 L-56.35,23.36 A61.0,61.0 0 0 1 -60.91,3.40 Z M-53.40,29.49 L-59.53,32.44 A67.8,67.8 0 0 0 -44.88,50.82 L-40.63,45.50 A61.0,61.0 0 0 1 -53.40,29.49 Z M-35.32,49.74 L-39.56,55.06 A67.8,67.8 0 0 0 -18.38,65.26 L-16.87,58.62 A61.0,61.0 0 0 1 -35.32,49.74 Z M-10.24,60.13 L-11.75,66.77 A67.8,67.8 0 0 0 11.75,66.77 L10.24,60.13 A61.0,61.0 0 0 1 -10.24,60.13 Z M16.87,58.62 L18.38,65.26 A67.8,67.8 0 0 0 39.56,55.06 L35.32,49.74 A61.0,61.0 0 0 1 16.87,58.62 Z M40.63,45.50 L44.88,50.82 A67.8,67.8 0 0 0 59.53,32.44 L53.40,29.49 A61.0,61.0 0 0 1 40.63,45.50 Z M56.35,23.36 L62.48,26.32 A67.8,67.8 0 0 0 67.71,3.40 L60.91,3.40 A61.0,61.0 0 0 1 56.35,23.36 Z" fill="#f3f3f3" filter="url(#bl)"/>
<polygon points="59.19,0.90 67.20,2.80 67.20,-2.80 59.19,-0.90" fill="#ffffff"/>
<polygon points="53.71,-24.87 61.76,-26.63 59.33,-31.68 52.93,-26.49" fill="#ffffff"/>
<polygon points="37.61,-45.71 44.09,-50.79 39.71,-54.28 36.20,-46.83" fill="#ffffff"/>
<polygon points="14.05,-57.50 17.68,-64.89 12.22,-66.14 12.29,-57.90" fill="#ffffff"/>
<polygon points="-12.29,-57.90 -12.22,-66.14 -17.68,-64.89 -14.05,-57.50" fill="#ffffff"/>
<polygon points="-36.20,-46.83 -39.71,-54.28 -44.09,-50.79 -37.61,-45.71" fill="#ffffff"/>
<polygon points="-52.93,-26.49 -59.33,-31.68 -61.76,-26.63 -53.71,-24.87" fill="#ffffff"/>
<polygon points="-59.19,-0.90 -67.20,-2.80 -67.20,2.80 -59.19,0.90" fill="#ffffff"/>
<polygon points="-53.71,24.87 -61.76,26.63 -59.33,31.68 -52.93,26.49" fill="#ffffff"/>
<polygon points="-37.61,45.71 -44.09,50.79 -39.71,54.28 -36.20,46.83" fill="#ffffff"/>
<polygon points="-14.05,57.50 -17.68,64.89 -12.22,66.14 -12.29,57.90" fill="#ffffff"/>
<polygon points="12.29,57.90 12.22,66.14 17.68,64.89 14.05,57.50" fill="#ffffff"/>
<polygon points="36.20,46.83 39.71,54.28 44.09,50.79 37.61,45.71" fill="#ffffff"/>
<polygon points="52.93,26.49 59.33,31.68 61.76,26.63 53.71,24.87" fill="#ffffff"/>
<line x1="0" y1="0" x2="82.70" y2="0.00" stroke="#a2a2a2" stroke-width="0.5"/>
<line x1="0" y1="0" x2="74.51" y2="-35.88" stroke="#a2a2a2" stroke-width="0.5"/>
<line x1="0" y1="0" x2="51.56" y2="-64.66" stroke="#a2a2a2" stroke-width="0.5"/>
<line x1="0" y1="0" x2="18.40" y2="-80.63" stroke="#a2a2a2" stroke-width="0.5"/>
<line x1="0" y1="0" x2="-18.40" y2="-80.63" stroke="#a2a2a2" stroke-width="0.5"/>
<line x1="0" y1="0" x2="-51.56" y2="-64.66" stroke="#a2a2a2" stroke-width="0.5"/>
<line x1="0" y1="0" x2="-74.51" y2="-35.88" stroke="#a2a2a2" stroke-width="0.5"/>
<line x1="0" y1="0" x2="-82.70" y2="-0.00" stroke="#a2a2a2" stroke-width="0.5"/>
<line x1="0" y1="0" x2="-74.51" y2="35.88" stroke="#a2a2a2" stroke-width="0.5"/>
<line x1="0" y1="0" x2="-51.56" y2="64.66" stroke="#a2a2a2" stroke-width="0.5"/>
<line x1="0" y1="0" x2="-18.40" y2="80.63" stroke="#a2a2a2" stroke-width="0.5"/>
<line x1="0" y1="0" x2="18.40" y2="80.63" stroke="#a2a2a2" stroke-width="0.5"/>
<line x1="0" y1="0" x2="51.56" y2="64.66" stroke="#a2a2a2" stroke-width="0.5"/>
<line x1="0" y1="0" x2="74.51" y2="35.88" stroke="#a2a2a2" stroke-width="0.5"/>
</g>
<polygon points="107.40,460.40 108.42,451.72 107.55,438.90 96.07,435.54 84.55,434.76 83.29,451.49 71.66,451.38 67.50,460.40 73.37,468.60 81.67,471.35 84.88,484.58 97.43,491.21 109.85,484.79 102.02,466.00" fill="none" stroke="#70cdae" stroke-width="2.5" stroke-linejoin="round"/>
<circle cx="107.40" cy="460.40" r="2.6" fill="#70cdae"/>
<circle cx="108.42" cy="451.72" r="2.6" fill="#70cdae"/>
<circle cx="107.55" cy="438.90" r="2.6" fill="#70cdae"/>
<circle cx="96.07" cy="435.54" r="2.6" fill="#70cdae"/>
<circle cx="84.55" cy="434.76" r="2.6" fill="#70cdae"/>
<circle cx="83.29" cy="451.49" r="2.6" fill="#70cdae"/>
<circle cx="71.66" cy="451.38" r="2.6" fill="#70cdae"/>
<circle cx="67.50" cy="460.40" r="2.6" fill="#70cdae"/>
<circle cx="73.37" cy="468.60" r="2.6" fill="#70cdae"/>
<circle cx="81.67" cy="471.35" r="2.6" fill="#70cdae"/>
<circle cx="84.88" cy="484.58" r="2.6" fill="#70cdae"/>
<circle cx="97.43" cy="491.21" r="2.6" fill="#70cdae"/>
<circle cx="109.85" cy="484.79" r="2.6" fill="#70cdae"/>
<circle cx="102.02" cy="466.00" r="2.6" fill="#70cdae"/>
<polygon points="125.60,460.40 127.07,442.74 113.41,431.55 98.08,426.76 81.54,421.60 74.00,439.84 59.14,445.34 54.50,460.40 60.04,475.02 69.76,486.28 82.97,492.96 94.76,479.51 108.86,483.54 130.94,479.92" fill="none" stroke="#1f78b9" stroke-width="2.8" stroke-linejoin="round"/>
<circle cx="125.60" cy="460.40" r="2.8" fill="#1f78b9"/>
<circle cx="127.07" cy="442.74" r="2.8" fill="#1f78b9"/>
<circle cx="113.41" cy="431.55" r="2.8" fill="#1f78b9"/>
<circle cx="98.08" cy="426.76" r="2.8" fill="#1f78b9"/>
<circle cx="81.54" cy="421.60" r="2.8" fill="#1f78b9"/>
<circle cx="74.00" cy="439.84" r="2.8" fill="#1f78b9"/>
<circle cx="59.14" cy="445.34" r="2.8" fill="#1f78b9"/>
<circle cx="54.50" cy="460.40" r="2.8" fill="#1f78b9"/>
<circle cx="60.04" cy="475.02" r="2.8" fill="#1f78b9"/>
<circle cx="69.76" cy="486.28" r="2.8" fill="#1f78b9"/>
<circle cx="82.97" cy="492.96" r="2.8" fill="#1f78b9"/>
<circle cx="94.76" cy="479.51" r="2.8" fill="#1f78b9"/>
<circle cx="108.86" cy="483.54" r="2.8" fill="#1f78b9"/>
<circle cx="130.94" cy="479.92" r="2.8" fill="#1f78b9"/>
<line x1="95.68" y1="437.68" x2="99.08" y2="437.68" stroke="#111" stroke-width="1.2"/>
<text x="100.58" y="441.18" font-size="9.2">0.4 mg</text>
<line x1="100.95" y1="414.56" x2="104.35" y2="414.56" stroke="#111" stroke-width="1.2"/>
<text x="105.85" y="418.06" font-size="9.2">0.8 mg</text>
<line x1="106.23" y1="391.44" x2="109.63" y2="391.44" stroke="#111" stroke-width="1.2"/>
<text x="111.13" y="394.94" font-size="9.2">1.2 mg</text>
<text x="124.70" y="377.2" font-size="11" textLength="61.50" lengthAdjust="spacingAndGlyphs">80,000 Cycles</text>
<g transform="translate(293.55,460.4)">
<circle r="83.7" fill="#afcce2" stroke="#8ba4ba" stroke-width="0.9"/>
<circle r="75.2" fill="#e6dcd8"/>
<circle r="74.0" fill="#ebe7e5"/>
<circle r="72" fill="url(#gb)" stroke="#b0b0b0" stroke-width="0.8"/>
<circle r="60.1" fill="none" stroke="#cfcfcf" stroke-width="1"/>
<circle r="68.7" fill="none" stroke="#cdcdcd" stroke-width="0.8"/>
<circle r="59.29" fill="#cbe7e0" stroke="#b5bfbc" stroke-width="0.7"/>
<circle r="42.4" fill="#ffffff"/>
<circle r="11.86" fill="none" stroke="#b2b2b2" stroke-width="0.5"/>
<circle r="23.71" fill="none" stroke="#b2b2b2" stroke-width="0.5"/>
<circle r="35.57" fill="none" stroke="#b2b2b2" stroke-width="0.5"/>
<circle r="47.43" fill="none" stroke="#b2b2b2" stroke-width="0.5"/>
<circle r="59.29" fill="none" stroke="#b2b2b2" stroke-width="0.5"/>
<circle r="71.14" fill="none" stroke="#b2b2b2" stroke-width="0.5"/>
<path d="M60.91,-3.40 L67.71,-3.40 A67.8,67.8 0 0 0 62.48,-26.32 L56.35,-23.36 A61.0,61.0 0 0 1 60.91,-3.40 Z M53.40,-29.49 L59.53,-32.44 A67.8,67.8 0 0 0 44.88,-50.82 L40.63,-45.50 A61.0,61.0 0 0 1 53.40,-29.49 Z M35.32,-49.74 L39.56,-55.06 A67.8,67.8 0 0 0 18.38,-65.26 L16.87,-58.62 A61.0,61.0 0 0 1 35.32,-49.74 Z M10.24,-60.13 L11.75,-66.77 A67.8,67.8 0 0 0 -11.75,-66.77 L-10.24,-60.13 A61.0,61.0 0 0 1 10.24,-60.13 Z M-16.87,-58.62 L-18.38,-65.26 A67.8,67.8 0 0 0 -39.56,-55.06 L-35.32,-49.74 A61.0,61.0 0 0 1 -16.87,-58.62 Z M-40.63,-45.50 L-44.88,-50.82 A67.8,67.8 0 0 0 -59.53,-32.44 L-53.40,-29.49 A61.0,61.0 0 0 1 -40.63,-45.50 Z M-56.35,-23.36 L-62.48,-26.32 A67.8,67.8 0 0 0 -67.71,-3.40 L-60.91,-3.40 A61.0,61.0 0 0 1 -56.35,-23.36 Z M-60.91,3.40 L-67.71,3.40 A67.8,67.8 0 0 0 -62.48,26.32 L-56.35,23.36 A61.0,61.0 0 0 1 -60.91,3.40 Z M-53.40,29.49 L-59.53,32.44 A67.8,67.8 0 0 0 -44.88,50.82 L-40.63,45.50 A61.0,61.0 0 0 1 -53.40,29.49 Z M-35.32,49.74 L-39.56,55.06 A67.8,67.8 0 0 0 -18.38,65.26 L-16.87,58.62 A61.0,61.0 0 0 1 -35.32,49.74 Z M-10.24,60.13 L-11.75,66.77 A67.8,67.8 0 0 0 11.75,66.77 L10.24,60.13 A61.0,61.0 0 0 1 -10.24,60.13 Z M16.87,58.62 L18.38,65.26 A67.8,67.8 0 0 0 39.56,55.06 L35.32,49.74 A61.0,61.0 0 0 1 16.87,58.62 Z M40.63,45.50 L44.88,50.82 A67.8,67.8 0 0 0 59.53,32.44 L53.40,29.49 A61.0,61.0 0 0 1 40.63,45.50 Z M56.35,23.36 L62.48,26.32 A67.8,67.8 0 0 0 67.71,3.40 L60.91,3.40 A61.0,61.0 0 0 1 56.35,23.36 Z" fill="#f3f3f3" filter="url(#bl)"/>
<polygon points="59.19,0.90 67.20,2.80 67.20,-2.80 59.19,-0.90" fill="#ffffff"/>
<polygon points="53.71,-24.87 61.76,-26.63 59.33,-31.68 52.93,-26.49" fill="#ffffff"/>
<polygon points="37.61,-45.71 44.09,-50.79 39.71,-54.28 36.20,-46.83" fill="#ffffff"/>
<polygon points="14.05,-57.50 17.68,-64.89 12.22,-66.14 12.29,-57.90" fill="#ffffff"/>
<polygon points="-12.29,-57.90 -12.22,-66.14 -17.68,-64.89 -14.05,-57.50" fill="#ffffff"/>
<polygon points="-36.20,-46.83 -39.71,-54.28 -44.09,-50.79 -37.61,-45.71" fill="#ffffff"/>
<polygon points="-52.93,-26.49 -59.33,-31.68 -61.76,-26.63 -53.71,-24.87" fill="#ffffff"/>
<polygon points="-59.19,-0.90 -67.20,-2.80 -67.20,2.80 -59.19,0.90" fill="#ffffff"/>
<polygon points="-53.71,24.87 -61.76,26.63 -59.33,31.68 -52.93,26.49" fill="#ffffff"/>
<polygon points="-37.61,45.71 -44.09,50.79 -39.71,54.28 -36.20,46.83" fill="#ffffff"/>
<polygon points="-14.05,57.50 -17.68,64.89 -12.22,66.14 -12.29,57.90" fill="#ffffff"/>
<polygon points="12.29,57.90 12.22,66.14 17.68,64.89 14.05,57.50" fill="#ffffff"/>
<polygon points="36.20,46.83 39.71,54.28 44.09,50.79 37.61,45.71" fill="#ffffff"/>
<polygon points="52.93,26.49 59.33,31.68 61.76,26.63 53.71,24.87" fill="#ffffff"/>
<line x1="0" y1="0" x2="82.70" y2="0.00" stroke="#a2a2a2" stroke-width="0.5"/>
<line x1="0" y1="0" x2="74.51" y2="-35.88" stroke="#a2a2a2" stroke-width="0.5"/>
<line x1="0" y1="0" x2="51.56" y2="-64.66" stroke="#a2a2a2" stroke-width="0.5"/>
<line x1="0" y1="0" x2="18.40" y2="-80.63" stroke="#a2a2a2" stroke-width="0.5"/>
<line x1="0" y1="0" x2="-18.40" y2="-80.63" stroke="#a2a2a2" stroke-width="0.5"/>
<line x1="0" y1="0" x2="-51.56" y2="-64.66" stroke="#a2a2a2" stroke-width="0.5"/>
<line x1="0" y1="0" x2="-74.51" y2="-35.88" stroke="#a2a2a2" stroke-width="0.5"/>
<line x1="0" y1="0" x2="-82.70" y2="-0.00" stroke="#a2a2a2" stroke-width="0.5"/>
<line x1="0" y1="0" x2="-74.51" y2="35.88" stroke="#a2a2a2" stroke-width="0.5"/>
<line x1="0" y1="0" x2="-51.56" y2="64.66" stroke="#a2a2a2" stroke-width="0.5"/>
<line x1="0" y1="0" x2="-18.40" y2="80.63" stroke="#a2a2a2" stroke-width="0.5"/>
<line x1="0" y1="0" x2="18.40" y2="80.63" stroke="#a2a2a2" stroke-width="0.5"/>
<line x1="0" y1="0" x2="51.56" y2="64.66" stroke="#a2a2a2" stroke-width="0.5"/>
<line x1="0" y1="0" x2="74.51" y2="35.88" stroke="#a2a2a2" stroke-width="0.5"/>
</g>
<polygon points="318.55,460.40 312.92,451.07 308.83,441.25 299.22,435.54 289.88,444.31 273.60,435.38 248.95,438.92 264.55,460.40 254.81,479.06 249.03,516.22 279.24,523.09 302.21,498.32 309.26,480.10 317.52,471.94" fill="none" stroke="#70cdae" stroke-width="2.5" stroke-linejoin="round"/>
<circle cx="318.55" cy="460.40" r="2.6" fill="#70cdae"/>
<circle cx="312.92" cy="451.07" r="2.6" fill="#70cdae"/>
<circle cx="308.83" cy="441.25" r="2.6" fill="#70cdae"/>
<circle cx="299.22" cy="435.54" r="2.6" fill="#70cdae"/>
<circle cx="289.88" cy="444.31" r="2.6" fill="#70cdae"/>
<circle cx="273.60" cy="435.38" r="2.6" fill="#70cdae"/>
<circle cx="248.95" cy="438.92" r="2.6" fill="#70cdae"/>
<circle cx="264.55" cy="460.40" r="2.6" fill="#70cdae"/>
<circle cx="254.81" cy="479.06" r="2.6" fill="#70cdae"/>
<circle cx="249.03" cy="516.22" r="2.6" fill="#70cdae"/>
<circle cx="279.24" cy="523.09" r="2.6" fill="#70cdae"/>
<circle cx="302.21" cy="498.32" r="2.6" fill="#70cdae"/>
<circle cx="309.26" cy="480.10" r="2.6" fill="#70cdae"/>
<circle cx="317.52" cy="471.94" r="2.6" fill="#70cdae"/>
<polygon points="336.25,460.40 338.42,438.79 324.04,422.17 303.94,414.87 282.11,410.29 265.99,425.84 248.68,438.79 264.45,460.40 255.71,478.62 263.06,498.63 281.11,514.90 303.10,502.22 318.86,492.14 326.17,476.11" fill="none" stroke="#1f78b9" stroke-width="2.8" stroke-linejoin="round"/>
<circle cx="336.25" cy="460.40" r="2.8" fill="#1f78b9"/>
<circle cx="338.42" cy="438.79" r="2.8" fill="#1f78b9"/>
<circle cx="324.04" cy="422.17" r="2.8" fill="#1f78b9"/>
<circle cx="303.94" cy="414.87" r="2.8" fill="#1f78b9"/>
<circle cx="282.11" cy="410.29" r="2.8" fill="#1f78b9"/>
<circle cx="265.99" cy="425.84" r="2.8" fill="#1f78b9"/>
<circle cx="248.68" cy="438.79" r="2.8" fill="#1f78b9"/>
<circle cx="264.45" cy="460.40" r="2.8" fill="#1f78b9"/>
<circle cx="255.71" cy="478.62" r="2.8" fill="#1f78b9"/>
<circle cx="263.06" cy="498.63" r="2.8" fill="#1f78b9"/>
<circle cx="281.11" cy="514.90" r="2.8" fill="#1f78b9"/>
<circle cx="303.10" cy="502.22" r="2.8" fill="#1f78b9"/>
<circle cx="318.86" cy="492.14" r="2.8" fill="#1f78b9"/>
<circle cx="326.17" cy="476.11" r="2.8" fill="#1f78b9"/>
<line x1="298.83" y1="437.68" x2="302.23" y2="437.68" stroke="#111" stroke-width="1.2"/>
<text x="303.73" y="441.18" font-size="9.2">0.4 mg</text>
<line x1="304.10" y1="414.56" x2="307.50" y2="414.56" stroke="#111" stroke-width="1.2"/>
<text x="309.00" y="418.06" font-size="9.2">0.8 mg</text>
<line x1="309.38" y1="391.44" x2="312.78" y2="391.44" stroke="#111" stroke-width="1.2"/>
<text x="314.28" y="394.94" font-size="9.2">1.2 mg</text>
<text x="326.10" y="377.2" font-size="11" textLength="66.60" lengthAdjust="spacingAndGlyphs">160,000 Cycles</text>
</svg></body></html>
